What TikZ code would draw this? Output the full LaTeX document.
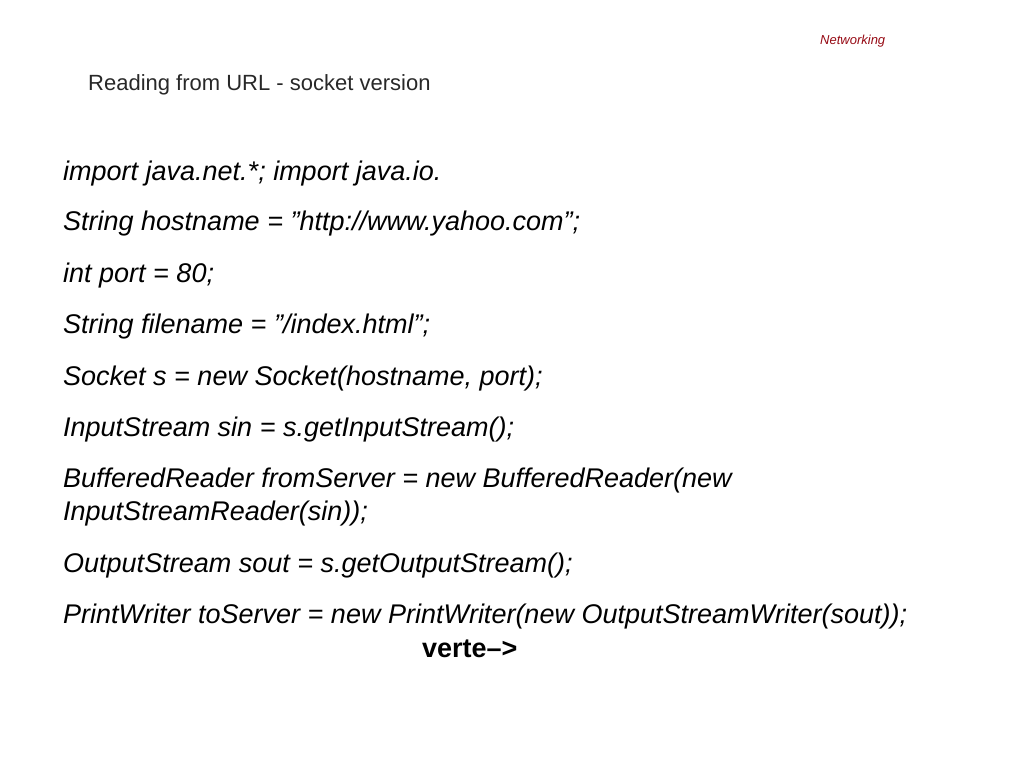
\documentclass[tikz,border=0pt]{standalone}
\usepackage{fontspec}
\setmainfont{Liberation Sans}
\definecolor{netred}{RGB}{150,10,20}
\definecolor{titlec}{RGB}{40,40,40}
\begin{document}
\begin{tikzpicture}[x=1pt,y=-1pt,
  code/.style={anchor=base west,inner sep=0,font=\fontsize{27}{31}\selectfont\itshape},
  ]
\useasboundingbox (0,0) rectangle (1024,768);
\node[anchor=base west,inner sep=0,text=netred,font=\fontsize{13}{15}\selectfont\itshape] (net) at (820,45) {Networking};
\node[anchor=base west,inner sep=0,text=titlec,font=\fontsize{22}{26}\selectfont] (title) at (88,90) {Reading from URL - socket version};
\node[code] (l1) at (63,180) {import java.net.*; import java.io.};
\node[code] (l2) at (63,230) {String hostname = "http://www.yahoo.com";};
\node[code] (l3) at (63,282) {int port = 80;};
\node[code] (l4) at (63,333) {String filename = "/index.html";};
\node[code] (l5) at (63,385) {Socket s = new Socket(hostname, port);};
\node[code] (l6) at (63,436) {InputStream sin = s.getInputStream();};
\node[code] (l7) at (63,487) {BufferedReader fromServer = new BufferedReader(new};
\node[code] (l7b) at (63,520) {InputStreamReader(sin));};
\node[code] (l8) at (63,572) {OutputStream sout = s.getOutputStream();};
\node[code] (l9) at (63,623) {PrintWriter toServer = new PrintWriter(new OutputStreamWriter(sout));};
\node[anchor=base west,inner sep=0,font=\fontsize{27}{31}\selectfont\bfseries] (v) at (422,657) {verte-->};
\end{tikzpicture}
\end{document}
